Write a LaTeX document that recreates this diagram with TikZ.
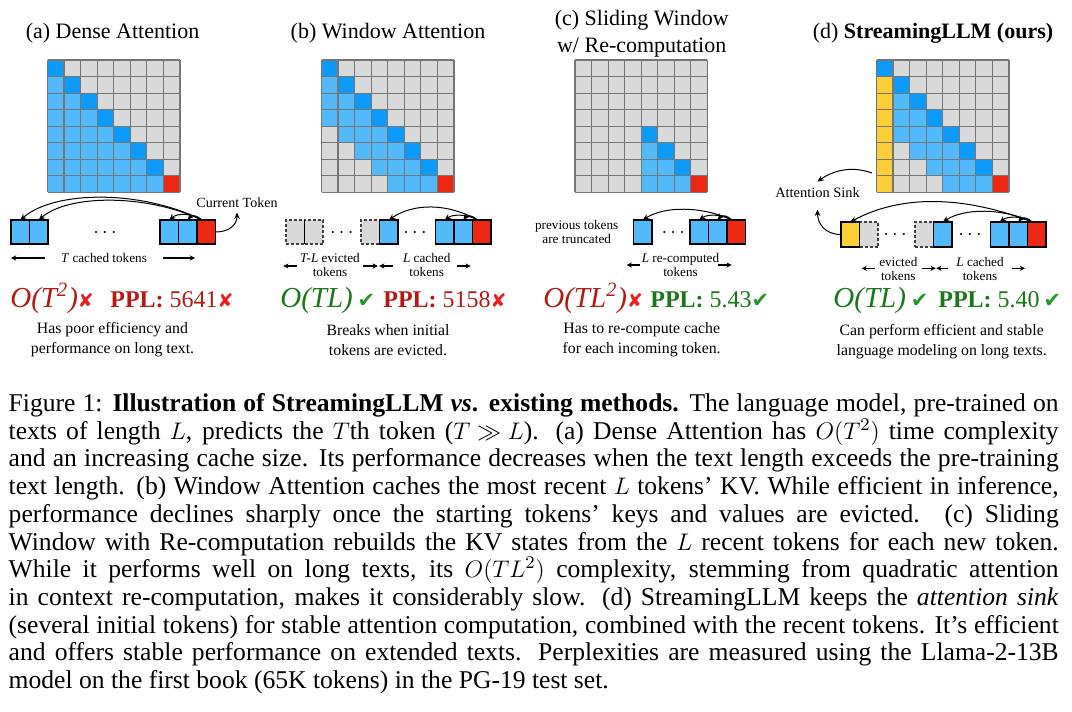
\documentclass[tikz,border=0pt]{standalone}
\usepackage{fontspec}
\setmainfont{Liberation Serif}
\newfontfamily\symf{DejaVu Sans}
\usetikzlibrary{arrows.meta}
\definecolor{lb}{RGB}{82,186,250}
\definecolor{db}{RGB}{12,155,250}
\definecolor{gr}{RGB}{217,217,217}
\definecolor{rd}{RGB}{236,40,20}
\definecolor{yl}{RGB}{252,206,55}
\definecolor{gl}{RGB}{118,118,118}
\definecolor{tred}{RGB}{180,25,20}
\definecolor{xred}{RGB}{235,30,30}
\definecolor{tgreen}{RGB}{25,120,25}
\definecolor{cgreen}{RGB}{40,150,40}
\newcommand\mcell[4]{\fill[#4] ({#1+#3*16.55},{60+#2*16.55}) rectangle ++(16.55,16.55);}
\newcommand\mgrid[1]{\foreach \k in {0,...,8}{\draw[gridl] ({#1+\k*16.55},60) -- ++(0,132.4); \draw[gridl] (#1,{60+\k*16.55}) -- ++(132.4,0);}}
\newcommand\xx{{\symf\fontsize{9.5}{9.5}\selectfont\color{xred}✘}}
\newcommand\ck{{\symf\fontsize{10.5}{10.5}\selectfont\color{cgreen}✔}}
\newcommand\gtr{{\thickmuskip=5mu$T \gg L$}}
\tikzset{
  gridl/.style={draw=gl, line width=0.6pt},
  tok/.style={draw=black, line width=0.7pt, minimum width=9.25pt, minimum height=12pt, inner sep=0pt, outer sep=0pt},
  tokd/.style={tok, minimum height=12.5pt},
  evict/.style={fill=gr, draw=black!75, dashed, dash pattern=on 1.5pt off 1pt},
  arr/.style={-{Stealth[length=3.2pt,width=2.8pt]}, line width=0.5pt},
  sarr/.style={-{Stealth[length=2.6pt,width=2.6pt]}, line width=0.6pt},
  lab/.style={font=\fontsize{6.6}{7.2}\selectfont, align=center, inner sep=0pt},
  desc/.style={font=\fontsize{7.9}{10}\selectfont, align=center, inner sep=0pt},
  ttl/.style={font=\fontsize{11}{13.5}\selectfont, align=center, inner sep=0pt},
  dots/.style={anchor=base, inner sep=0pt, font=\fontsize{10}{10}\selectfont},
  cost/.style={anchor=base west, inner sep=0pt, font=\fontsize{14.5}{14.5}\selectfont\itshape},
  ppl/.style={anchor=base west, inner sep=0pt, font=\fontsize{12}{12}\selectfont},
  capl/.style={anchor=base west, inner sep=0pt, font=\fontsize{12.8}{13.85}\selectfont},
}
\begin{document}
\begin{tikzpicture}[x=0.5pt,y=-0.5pt]
\useasboundingbox (0,0) rectangle (1072,712);
\fill[white] (0,0) rectangle (1072,712);

% ---------- titles ----------
\node[ttl] (ta) at (112.5,33) {(a) Dense Attention};
\node[ttl] (tb) at (388,33) {(b) Window Attention};
\node[ttl] (tc) at (641.7,33.5) {(c) Sliding Window\\w/ Re-computation};
\node[ttl] (td) at (933,33) {(d) \textbf{StreamingLLM (ours)}};

% ---------- matrices ----------
% (a)
\fill[gr] (47.5,60) rectangle ++(132.4,132.4);
\foreach \i/\e in {1/0,2/1,3/2,4/3,5/4,6/5,7/6}{\foreach \j in {0,...,\e}{\mcell{47.5}{\i}{\j}{lb}}}
\foreach \i in {0,...,6}{\mcell{47.5}{\i}{\i}{db}}
\mcell{47.5}{7}{7}{rd}
\mgrid{47.5}
% (b)
\fill[gr] (321.5,60) rectangle ++(132.4,132.4);
\foreach \i/\s/\e in {1/0/0,2/0/1,3/0/2,4/1/3,5/2/4,6/3/5,7/4/6}{\foreach \j in {\s,...,\e}{\mcell{321.5}{\i}{\j}{lb}}}
\foreach \i in {0,...,6}{\mcell{321.5}{\i}{\i}{db}}
\mcell{321.5}{7}{7}{rd}
\mgrid{321.5}
% (c)
\fill[gr] (575,60) rectangle ++(132.4,132.4);
\foreach \i/\s/\e in {5/4/4,6/4/5,7/4/6}{\foreach \j in {\s,...,\e}{\mcell{575}{\i}{\j}{lb}}}
\foreach \i in {4,5,6}{\mcell{575}{\i}{\i}{db}}
\mcell{575}{7}{7}{rd}
\mgrid{575}
% (d)
\fill[gr] (876.5,60) rectangle ++(132.4,132.4);
\foreach \i in {1,...,7}{\mcell{876.5}{\i}{0}{yl}}
\foreach \i/\s/\e in {2/1/1,3/1/2,4/1/3,5/2/4,6/3/5,7/4/6}{\foreach \j in {\s,...,\e}{\mcell{876.5}{\i}{\j}{lb}}}
\foreach \i in {0,...,6}{\mcell{876.5}{\i}{\i}{db}}
\mcell{876.5}{7}{7}{rd}
\mgrid{876.5}

% ---------- (a) tokens ----------
\node[tok, fill=lb] (a1) at (20.25,232) {};
\node[tok, fill=lb] (a2) at (38.75,232) {};
\node[dots] (adots) at (105,237) {$\cdots$};
\node[tok, fill=lb] (a3) at (169.25,232) {};
\node[tok, fill=lb] (a4) at (187.75,232) {};
\node[tok, fill=rd] (ar) at (206.25,232) {};
\node[font=\fontsize{7}{7}\selectfont, inner sep=0pt, anchor=base] (curtok) at (237,207) {Current Token};
\draw[arr] (ar.110) .. controls +(-60,-30) and +(35,-30) .. (a1.north);
\draw[arr] (ar.110) .. controls +(-55,-26) and +(30,-26) .. (a2.north);
\draw[arr] (ar.110) .. controls +(-10,-7) and +(8,-7) .. (a3.north);
\draw[arr] (ar.110) .. controls +(-5,-5) and +(4,-5) .. (a4.north);
\draw[arr] (ar.east) .. controls +(14,0) and +(0,12) .. ([yshift=-2.5pt]curtok.south);
\node[lab] (alab) at (104,258) {\textit{T} cached tokens};
\coordinate (aLs) at (45,258); \coordinate (aLe) at (11,258);
\coordinate (aRs) at (163,258); \coordinate (aRe) at (195,258);
\draw[sarr] (aLs) -- (aLe);
\draw[sarr] (aRs) -- (aRe);

% ---------- (b) tokens ----------
\node[tok, evict] (b1) at (295.25,232) {};
\node[tok, evict] (b2) at (313.75,232) {};
\draw[line width=0.7pt] (b1.north east) -- (b1.south east);
\node[dots] (bdots1) at (341.7,237) {$\cdots$};
\node[tok, evict] (b3) at (370.25,232) {};
\node[tok, fill=lb] (b4) at (388.75,232) {};
\node[dots] (bdots2) at (415,237) {$\cdots$};
\node[tok, fill=lb] (b5) at (444.75,232) {};
\node[tok, fill=lb] (b6) at (463.25,232) {};
\node[tok, fill=rd] (br) at (481.75,232) {};
\draw[arr] (br.110) .. controls +(-30,-17) and +(25,-17) .. (b4.north);
\draw[arr] (br.110) .. controls +(-10,-6) and +(8,-6) .. (b5.north);
\draw[arr] (br.110) .. controls +(-5,-5) and +(4,-5) .. (b6.north);
\node[lab] (blab1) at (330,265) {\textit{T-L} evicted\\tokens};
\node[lab] (blab2) at (426.7,265) {\textit{L} cached\\tokens};
\coordinate (b1s) at (296.7,266); \coordinate (b1e) at (283.3,266);
\coordinate (b2s) at (363.3,266); \coordinate (b2e) at (377.8,266);
\coordinate (b3s) at (393.3,266); \coordinate (b3e) at (379.2,266);
\coordinate (b4s) at (456.7,266); \coordinate (b4e) at (470.7,266);
\draw[sarr] (b1s) -- (b1e);
\draw[sarr] (b2s) -- (b2e);
\draw[sarr] (b3s) -- (b3e);
\draw[sarr] (b4s) -- (b4e);

% ---------- (c) tokens ----------
\node[lab] (ctrunc) at (576.7,232) {previous tokens\\are truncated};
\node[tok, fill=lb] (c1) at (642.75,232) {};
\node[dots] (cdots) at (673.3,237) {$\cdots$};
\node[tok, fill=lb] (c2) at (699.25,232) {};
\node[tok, fill=lb] (c3) at (717.75,232) {};
\node[tok, fill=rd] (cr) at (736.25,232) {};
\draw[arr] (cr.110) .. controls +(-30,-14) and +(22,-14) .. (c1.north);
\draw[arr] (cr.110) .. controls +(-10,-6) and +(8,-6) .. (c2.north);
\draw[arr] (cr.110) .. controls +(-5,-5) and +(4,-5) .. (c3.north);
\node[lab] (clab) at (680.5,265) {\textit{L} re-computed\\tokens};
\coordinate (c1s) at (640,265); \coordinate (c1e) at (626.7,265);
\coordinate (c2s) at (718,265); \coordinate (c2e) at (731.7,265);
\draw[sarr] (c1s) -- (c1e);
\draw[sarr] (c2s) -- (c2e);

% ---------- (d) tokens ----------
\node[tokd, evict] (d2) at (868.75,234.5) {};
\node[tokd, fill=yl] (d1) at (850.25,234.5) {};
\node[dots] (ddots1) at (895,239.5) {$\cdots$};
\node[tokd, evict] (d3) at (924.25,234.5) {};
\node[tokd, fill=lb] (d4) at (942.75,234.5) {};
\node[dots] (ddots2) at (970,239.5) {$\cdots$};
\node[tokd, fill=lb] (d5) at (999.75,234.5) {};
\node[tokd, fill=lb] (d6) at (1018.25,234.5) {};
\node[tokd, fill=rd] (dr) at (1036.75,234.5) {};
\draw[arr] (dr.110) .. controls +(-70,-27) and +(50,-27) .. (d1.north);
\draw[arr] (dr.110) .. controls +(-30,-14) and +(22,-14) .. (d4.north);
\draw[arr] (dr.110) .. controls +(-10,-6) and +(8,-6) .. (d5.north);
\draw[arr] (dr.110) .. controls +(-5,-5) and +(4,-5) .. (d6.north);
\node[font=\fontsize{7.2}{7.2}\selectfont, inner sep=0pt, anchor=base] (sink) at (817.5,197) {Attention Sink};
\coordinate (sinkmat) at (872,173);
\draw[arr] (sinkmat) .. controls +(-22,-8) and +(14,-10) .. ([yshift=2.5pt]sink.north);
\draw[arr] (d1.west) .. controls +(-16,0) and +(0,14) .. ([yshift=-6pt]sink.south);
\node[lab] (dlab1) at (898.3,269) {evicted\\tokens};
\node[lab] (dlab2) at (980,269) {\textit{L} cached\\tokens};
\coordinate (d1s) at (875,268.3); \coordinate (d1e) at (861.7,268.3);
\coordinate (d2s) at (921.7,268.3); \coordinate (d2e) at (935.7,268.3);
\coordinate (d3s) at (948.3,268.3); \coordinate (d3e) at (936.3,268.3);
\coordinate (d4s) at (1011.7,268.3); \coordinate (d4e) at (1025,268.3);
\draw[sarr] (d1s) -- (d1e);
\draw[sarr] (d2s) -- (d2e);
\draw[sarr] (d3s) -- (d3e);
\draw[sarr] (d4s) -- (d4e);

% ---------- metrics ----------
\node[cost, text=tred] (acost) at (10,307) {O(T\textsuperscript{2})\xx};
\node[ppl, text=tred] (appl) at (110,307) {\textbf{PPL:} 5641\xx};
\node[cost, text=tgreen] (bcost) at (280,307) {O(TL)\,\ck};
\node[ppl, text=tred] (bppl) at (383,307) {\textbf{PPL:} 5158\xx};
\node[cost, text=tred] (ccost) at (543,307) {O(TL\textsuperscript{2})\xx};
\node[ppl, text=tgreen] (cppl) at (650,307) {\textbf{PPL:} 5.43\ck};
\node[cost, text=tgreen] (dcost) at (833,307) {O(TL)\,\ck};
\node[ppl, text=tgreen] (dppl) at (938,307) {\textbf{PPL:} 5.40\,\ck};

% ---------- descriptions ----------
\node[desc] (adesc) at (112.5,340) {Has poor efficiency and\\performance on long text.};
\node[desc] (bdesc) at (388,340) {Breaks when initial\\tokens are evicted.};
\node[desc] (cdesc) at (641.7,340) {Has to re-compute cache\\for each incoming token.};
\node[desc] (ddesc) at (941.7,341.5) {Can perform efficient and stable\\language modeling on long texts.};

% ---------- caption ----------
\node[capl] (cap1) at (8.3,411.5) {\makebox[525pt][s]{Figure 1: \textbf{Illustration of StreamingLLM \textit{vs}. existing methods.} The language model, pre-trained on}};
\node[capl] (cap2) at (8.3,439.2) {\makebox[525pt][s]{texts of length $L$, predicts the $T$th token (\gtr). (a) Dense Attention has $O(T^2)$ time complexity}};
\node[capl] (cap3) at (8.3,466.9) {\makebox[525pt][s]{and an increasing cache size. Its performance decreases when the text length exceeds the pre-training}};
\node[capl] (cap4) at (8.3,494.6) {\makebox[525pt][s]{text length. (b) Window Attention caches the most recent $L$ tokens' KV. While efficient in inference,}};
\node[capl] (cap5) at (8.3,522.3) {\makebox[525pt][s]{performance declines sharply once the starting tokens' keys and values are evicted. (c) Sliding}};
\node[capl] (cap6) at (8.3,550.0) {\makebox[525pt][s]{Window with Re-computation rebuilds the KV states from the $L$ recent tokens for each new token.}};
\node[capl] (cap7) at (8.3,577.7) {\makebox[525pt][s]{While it performs well on long texts, its $O(TL^2)$ complexity, stemming from quadratic attention}};
\node[capl] (cap8) at (8.3,605.4) {\makebox[525pt][s]{in context re-computation, makes it considerably slow. (d) StreamingLLM keeps the \textit{attention sink}}};
\node[capl] (cap9) at (8.3,633.1) {\makebox[525pt][s]{(several initial tokens) for stable attention computation, combined with the recent tokens. It's efficient}};
\node[capl] (cap10) at (8.3,660.8) {\makebox[525pt][s]{and offers stable performance on extended texts. Perplexities are measured using the Llama-2-13B}};
\node[capl] (cap11) at (8.3,688.5) {model on the first book (65K tokens) in the PG-19 test set.};
\end{tikzpicture}
\end{document}
